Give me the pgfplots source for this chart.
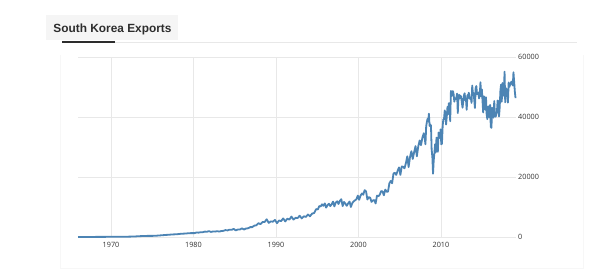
\documentclass[border=0pt]{standalone}
\usepackage{pgfplots}
\pgfplotsset{compat=1.18}
\usepackage{fontspec}
\setmainfont{Open Sans}
\newfontfamily\titlefont{Liberation Sans}
\definecolor{linecol}{RGB}{76,132,180}
\definecolor{gridcol}{RGB}{232,232,232}
\definecolor{labcol}{RGB}{50,50,50}
\definecolor{titlebg}{RGB}{245,245,245}
\definecolor{titlecol}{RGB}{45,45,45}

\pgfplotstableread{
x y
1966.0 18
1966.5 22
1967.0 24
1967.5 28
1968.0 33
1968.5 40
1969.0 45
1969.5 53
1970.0 60
1970.5 72
1971.0 80
1971.5 92
1972.0 110
1972.5 140
1973.0 200
1973.5 280
1974.0 340
1974.5 380
1975.0 370
1975.5 440
1976.0 540
1976.5 660
1977.0 750
1977.5 860
1978.0 920
1978.5 1080
1979.0 1150
1979.5 1280
1980.125 1300
1980.375 1500
1980.625 1450
1980.875 1600
1981.125 1600
1981.375 1800
1981.625 1750
1981.875 1950
1982.125 1700
1982.375 1850
1982.625 1800
1982.875 1950
1983.125 1800
1983.375 2000
1983.625 2050
1983.875 2300
1984.125 2200
1984.375 2450
1984.625 2400
1984.875 2700
1985.125 2200
1985.375 2500
1985.625 2500
1985.875 2900
1986.125 2500
1986.375 2850
1986.625 2900
1986.875 3300
1987.125 3300
1987.375 3800
1987.625 3900
1987.875 4600
1988.125 4300
1988.375 5000
1988.625 5000
1988.875 5900
1989.125 4700
1989.375 5200
1989.625 5100
1989.875 5700
1990.125 4600
1990.375 5500
1990.625 5300
1990.875 6200
1991.125 5200
1991.375 6100
1991.625 5800
1991.875 6800
1992.125 5800
1992.375 6400
1992.625 6300
1992.875 7100
1993.125 6200
1993.375 6900
1993.625 6700
1993.875 7500
1994.125 6900
1994.375 7800
1994.625 8000
1994.875 9300
1995.08 9200
1995.25 10300
1995.42 10200
1995.58 10900
1995.75 10400
1995.92 11200
1996.08 9800
1996.25 10600
1996.42 11100
1996.58 10300
1996.75 10900
1996.92 11800
1997.08 10200
1997.25 11500
1997.42 11900
1997.58 11000
1997.75 12100
1997.92 12600
1998.08 10300
1998.25 11700
1998.42 11100
1998.58 10400
1998.75 11200
1998.92 11800
1999.08 10000
1999.25 11300
1999.42 11900
1999.58 12200
1999.75 12600
1999.92 13800
2000.08 12400
2000.25 13800
2000.42 14500
2000.58 14100
2000.75 15600
2000.92 15200
2001.08 12500
2001.25 13300
2001.42 13100
2001.58 11700
2001.75 12200
2001.92 12300
2002.08 11200
2002.25 13800
2002.42 13600
2002.58 14100
2002.75 15300
2002.92 15200
2003.08 13900
2003.25 15800
2003.42 15100
2003.58 15100
2003.75 17900
2003.92 18700
2004.08 17900
2004.25 21200
2004.42 21400
2004.58 20700
2004.75 22100
2004.92 23200
2005.08 20700
2005.25 23500
2005.42 23400
2005.58 22900
2005.75 24600
2005.92 26900
2006.08 23300
2006.25 26700
2006.42 28600
2006.58 26000
2006.75 28300
2006.92 30300
2007.08 26900
2007.25 30200
2007.42 32200
2007.58 30600
2007.75 33100
2007.92 34600
2008.04 32800
2008.12 30900
2008.21 36900
2008.29 38300
2008.37 39400
2008.46 38600
2008.54 41100
2008.62 37000
2008.71 37500
2008.79 37100
2008.87 29300
2008.96 26600
2009.04 21100
2009.12 25400
2009.21 28100
2009.29 30900
2009.37 28200
2009.46 33100
2009.54 32900
2009.62 28400
2009.71 34800
2009.79 33900
2009.87 33000
2009.96 35900
2010.04 30900
2010.12 31100
2010.21 37100
2010.29 39200
2010.37 39300
2010.46 42200
2010.54 40700
2010.62 37500
2010.71 40300
2010.79 43400
2010.87 40900
2010.96 44600
2011.04 44600
2011.12 38600
2011.21 48700
2011.29 47000
2011.37 48600
2011.46 48600
2011.54 47500
2011.62 45100
2011.71 46300
2011.79 46000
2011.87 46500
2011.96 47800
2012.04 41300
2012.12 46200
2012.21 47400
2012.29 46200
2012.37 47100
2012.46 46600
2012.54 44600
2012.62 43100
2012.71 45300
2012.79 47200
2012.87 47900
2012.96 45600
2013.04 45600
2013.12 42400
2013.21 47300
2013.29 46200
2013.37 48100
2013.46 46800
2013.54 46000
2013.62 46400
2013.71 44700
2013.79 50500
2013.87 48000
2013.96 48000
2014.04 45600
2014.12 43000
2014.21 49800
2014.29 50300
2014.37 47600
2014.46 47700
2014.54 48200
2014.62 46200
2014.71 47600
2014.79 51600
2014.87 46900
2014.96 49200
2015.04 45300
2015.12 41500
2015.21 46900
2015.29 46200
2015.37 42400
2015.46 46600
2015.54 40900
2015.62 39300
2015.71 43500
2015.79 43500
2015.87 39900
2015.96 44000
2016.04 36700
2016.12 36400
2016.21 43100
2016.29 41000
2016.37 39800
2016.46 45300
2016.54 41000
2016.62 40100
2016.71 40800
2016.79 41900
2016.87 45500
2016.96 45200
2017.04 40200
2017.12 43200
2017.21 48900
2017.29 50800
2017.37 45100
2017.46 51300
2017.54 48900
2017.62 47100
2017.71 55100
2017.79 44900
2017.87 49600
2017.96 49100
2018.04 49200
2018.12 44800
2018.21 51500
2018.29 50000
2018.37 50700
2018.46 51200
2018.54 51800
2018.62 51200
2018.71 50500
2018.79 54900
2018.87 51900
2018.96 48400
2019.04 46300
}\exports

\begin{document}
\begin{tikzpicture}[x=1bp,y=1bp]
\fill[white] (0,0) rectangle (600,275);
% faint frame
\draw[gray!6, line width=0.6bp] (60,220) -- (60,7) -- (583,7) -- (583,220);
% title block
\fill[titlebg] (46,235) rectangle (178,260);
\node[anchor=base west, inner sep=0pt, text=titlecol, font=\titlefont\fontsize{11.9}{14}\selectfont\bfseries] at (53.3,243) {South Korea Exports};
\draw[gridcol, line width=1bp] (115,233) -- (577,233);
\draw[titlecol, line width=2bp] (62,233.3) -- (115,233.3);
\begin{axis}[
  at={(78bp,38bp)}, anchor=south west,
  scale only axis, width=438bp, height=180bp,
  xmin=1966, xmax=2019.1, ymin=0, ymax=60000,
  axis line style={draw=none},
  major tick length=0pt,
  xtick={1970,1980,1990,2000,2010},
  ytick={0,20000,40000,60000},
  grid=major,
  major grid style={draw=gridcol, line width=0.7bp},
  yticklabel pos=right,
  scaled y ticks=false,
  /pgf/number format/assume math mode=true,
  /pgf/number format/1000 sep={},
  ticklabel style={font=\fontsize{7.3}{8}\selectfont, text=labcol},
  y tick label style={anchor=west, inner sep=0pt, xshift=2bp},
  x tick label style={anchor=north, inner sep=0pt, yshift=-5bp},
  clip=false,
]
\addplot[color=linecol, line width=1.8bp, line join=round, mark=none] table[x=x,y=y] {\exports};
\end{axis}
\end{tikzpicture}
\end{document}
